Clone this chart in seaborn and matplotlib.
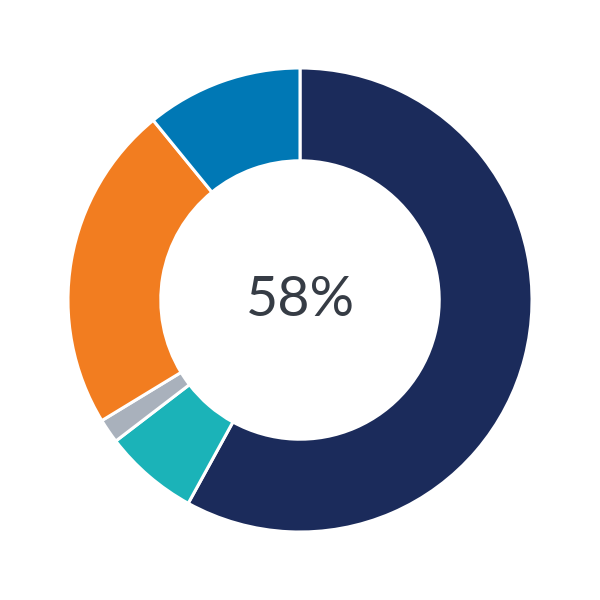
import seaborn as sns
import matplotlib.pyplot as plt

# segment shares, clockwise from the top
labels = ['Navy', 'Teal', 'Grey', 'Orange', 'Blue']
values = [58.0, 6.6, 1.7, 22.8, 10.9]
colors = ['#1b2b5b', '#1bb3b8', '#a9b1bc', '#f27d20', '#0078b5']
center_label = '58%'

sns.set_theme(style='white')
plt.rcParams['font.family'] = ['Lato', 'DejaVu Sans']

fig = plt.figure(figsize=(6, 6), dpi=100)
ax = fig.add_axes([0, 0, 1, 1])

ax.pie(values, colors=colors, startangle=90, counterclock=False, radius=1.0,
       wedgeprops=dict(width=0.4, edgecolor='white', linewidth=2.2))

ax.text(0, 0, center_label, ha='center', va='center', fontsize=40,
        color='#363c45')

lim = 1.293
ax.set_xlim(-lim, lim)
ax.set_ylim(-lim, lim)
ax.set_aspect('equal')
ax.axis('off')

fig.savefig('out.png', dpi=100, facecolor='white')
